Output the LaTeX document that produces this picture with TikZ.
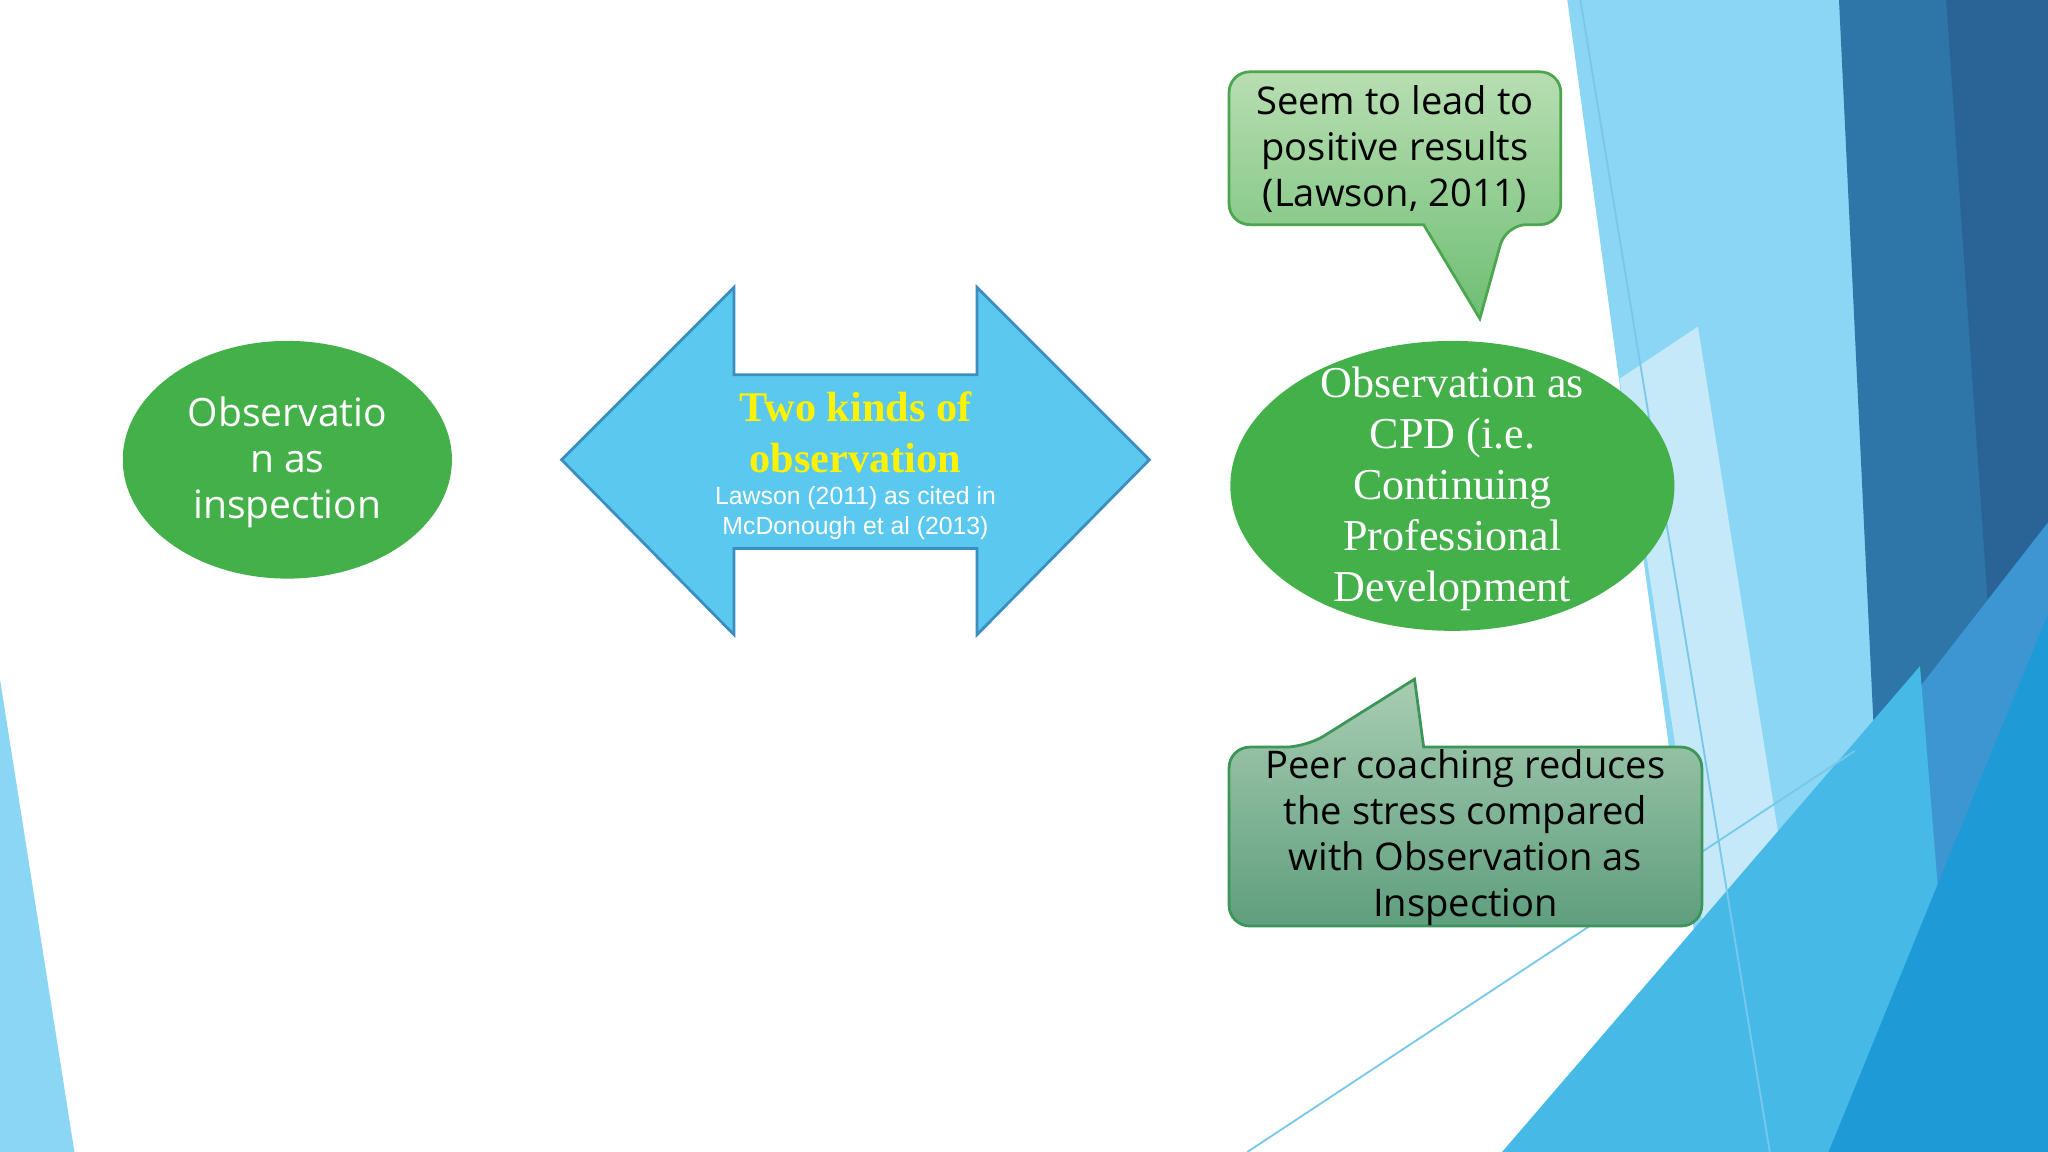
\documentclass[tikz,border=0pt]{standalone}
\usepackage{fontspec}
\setmainfont{Liberation Serif}
\newfontfamily\sans{Open Sans}
\newfontfamily\arial{Liberation Sans}
\begin{document}
\begin{tikzpicture}[x=0.01cm,y=-0.01cm,
  wt/.style={text=white,align=center,inner sep=0},
  bt/.style={text=black,align=center,inner sep=0,font=\sans\fontsize{8.3}{10}\selectfont}]
\definecolor{gr}{HTML}{43B04A}
\definecolor{arr}{HTML}{5BC8EF}
\definecolor{arrd}{HTML}{3A8FC0}
\useasboundingbox (0,0) rectangle (1568,882);
\fill[white] (0,0) rectangle (1568,882);
% background right
\fill[color={rgb,255:red,138;green,214;blue,244}] (1200,0)--(1410,0)--(1470,882)--(1320,882)--cycle;
\fill[color={rgb,255:red,197;green,233;blue,248}] (1240,290)--(1300,250)--(1400,882)--(1330,882)--cycle;
\fill[color={rgb,255:red,46;green,118;blue,168}] (1408,0)--(1568,0)--(1568,882)--(1450,882)--cycle;
\fill[color={rgb,255:red,42;green,100;blue,150}] (1490,0)--(1568,0)--(1568,450)--(1530,580)--cycle;
\fill[color={rgb,255:red,60;green,150;blue,210}] (1420,590)--(1568,400)--(1568,520)--(1440,882)--(1410,882)--cycle;
\fill[color={rgb,255:red,70;green,185;blue,230}] (1150,882)--(1470,510)--(1500,882)--cycle;
\fill[color={rgb,255:red,30;green,154;blue,214}] (1400,882)--(1568,470)--(1568,882)--cycle;
\draw[color={rgb,255:red,120;green,200;blue,235},line width=0.4pt] (1210,0)--(1355,882);
\draw[color={rgb,255:red,120;green,200;blue,235},line width=0.4pt] (955,882)--(1420,575);
% left edge
\fill[color={rgb,255:red,138;green,214;blue,244}] (0,520)--(57,882)--(0,882)--cycle;
% left ellipse
\fill[gr] (220,352) ellipse [x radius=126,y radius=91];
\node[wt,font=\sans\fontsize{8.5}{10}\selectfont] (insp) at (220,354) {Observatio\\n as\\inspection};
% double arrow
\draw[fill=arr,draw=arrd,line width=0.6pt] (430,352)--(562,220)--(562,287)--(748,287)--(748,220)--(880,352)--(748,486)--(748,420)--(562,420)--(562,486)--cycle;
\node[inner sep=0,align=center,text=yellow,font=\bfseries\fontsize{9.2}{11.2}\selectfont] (two) at (655,331) {Two kinds of\\observation};
\node[wt,font=\arial\fontsize{5.4}{6.6}\selectfont] (laws) at (655,393) {Lawson (2011) as cited in\\McDonough et al (2013)};
% right ellipse
\fill[gr] (1112,372) ellipse [x radius=170,y radius=111];
\node[wt,font=\fontsize{9.6}{11.1}\selectfont] (cpd) at (1112,374) {Observation as\\CPD (i.e.\\Continuing\\Professional\\Development};
% top callout
\shade[top color={rgb,255:red,184;green,222;blue,178},bottom color={rgb,255:red,110;green,190;blue,115},draw={rgb,255:red,76;green,166;blue,79},line width=0.6pt,rounded corners=4.5pt]
  (1090,172) -- (941,172) -- (941,55) -- (1195,55) -- (1195,172) -- (1153,172) [sharp corners] -- (1133,244) -- cycle;
\node[bt] (seem) at (1068,114) {Seem to lead to\\positive results\\(Lawson, 2011)};
% bottom callout
\shade[top color={rgb,255:red,168;green,205;blue,178},bottom color={rgb,255:red,95;green,158;blue,126},draw={rgb,255:red,60;green,150;blue,90},line width=0.6pt,rounded corners=4.5pt]
  (1090,572) -- (1303,572) -- (1303,709) -- (941,709) -- (941,572) -- (1000,572) [sharp corners] -- (1083,520) -- cycle;
\node[bt] (peer) at (1122,641) {Peer coaching reduces\\the stress compared\\with Observation as\\Inspection};
\end{tikzpicture}
\end{document}
